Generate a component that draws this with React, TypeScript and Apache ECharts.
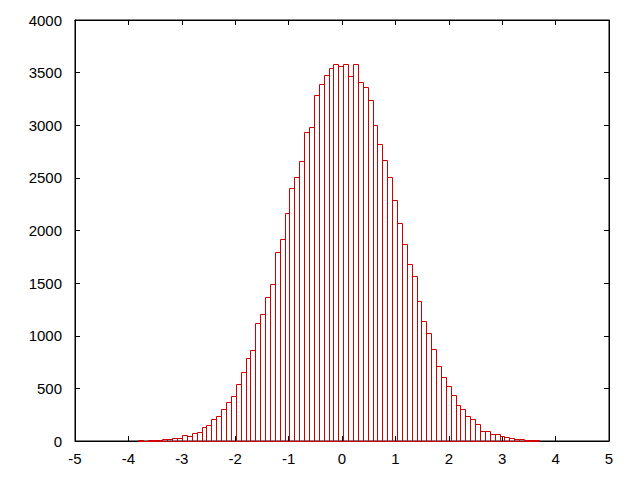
import React, { useEffect, useRef } from "react";
import * as echarts from "echarts";

// Histogram bin layout (value units on the x axis)
const binStart = -3.82;
const binWidth = 0.0915;

// Counts per bin (left to right)
const counts = [
  10, 0, 7, 8, 9, 19, 22, 29, 28, 60,
  50, 77, 87, 134, 153, 209, 237, 304, 369, 428,
  540, 656, 787, 868, 1125, 1210, 1369, 1492, 1797, 1922,
  2167, 2405, 2510, 2662, 2937, 2988, 3289, 3394, 3479, 3546,
  3584, 3567, 3584, 3472, 3584, 3413, 3365, 3243, 3006, 2823,
  2671, 2510, 2291, 2072, 1875, 1682, 1568, 1327, 1144, 1029,
  877, 716, 611, 526, 437, 339, 307, 234, 212, 165,
  95, 95, 70, 70, 44, 35, 29, 22, 19, 13,
  10, 10,
];

const xMin = -5;
const xMax = 5;
const xInterval = 1;
const yMin = 0;
const yMax = 4000;
const yInterval = 500;

const BAR_COLOR = "#d00000";
const FONT = "'Liberation Sans', Arial, sans-serif";

export default function App() {
  const ref = useRef<HTMLDivElement>(null);

  useEffect(() => {
    if (!ref.current) return;
    const chart = echarts.init(ref.current, null, { renderer: "svg" });

    const data = counts.map((c, i) => [
      binStart + i * binWidth,
      binStart + (i + 1) * binWidth,
      c,
    ]);

    const snap = (v: number) => Math.round(v) + 0.5;
    const plain = (v: number) => String(v);

    const labelStyle = {
      color: "#000",
      fontFamily: FONT,
      fontSize: 15,
      formatter: plain,
    };

    const axisCommon = {
      type: "value",
      axisLine: { show: true, onZero: false, lineStyle: { color: "#000", width: 1 } },
      axisTick: { show: true, inside: true, length: 5, lineStyle: { color: "#000" } },
      splitLine: { show: false },
    };

    chart.setOption({
      animation: false,
      backgroundColor: "#ffffff",
      grid: {
        left: 75,
        right: 31,
        top: 20,
        bottom: 39,
        show: true,
        borderColor: "#000",
        borderWidth: 1,
        backgroundColor: "transparent",
        containLabel: false,
      },
      xAxis: [
        {
          ...axisCommon,
          min: xMin,
          max: xMax,
          interval: xInterval,
          position: "bottom",
          axisLabel: { ...labelStyle, margin: 10 },
        },
        {
          ...axisCommon,
          min: xMin,
          max: xMax,
          interval: xInterval,
          position: "top",
          axisLabel: { show: false },
        },
      ],
      yAxis: [
        {
          ...axisCommon,
          min: yMin,
          max: yMax,
          interval: yInterval,
          position: "left",
          axisLabel: { ...labelStyle, margin: 13 },
        },
        {
          ...axisCommon,
          min: yMin,
          max: yMax,
          interval: yInterval,
          position: "right",
          axisLabel: { show: false },
        },
      ],
      series: [
        {
          type: "custom",
          xAxisIndex: 0,
          yAxisIndex: 0,
          data,
          encode: { x: [0, 1], y: 2 },
          renderItem: (params: any, api: any) => {
            const x0 = api.value(0);
            const x1 = api.value(1);
            const v = api.value(2);
            const pTop = api.coord([x0, v]);
            const pBot = api.coord([x1, 0]);
            const left = snap(pTop[0]);
            const right = snap(pBot[0]);
            const top = snap(pTop[1]);
            const bottom = snap(pBot[1]);
            return {
              type: "rect",
              shape: {
                x: left,
                y: top,
                width: right - left,
                height: bottom - top,
              },
              style: {
                fill: "none",
                stroke: BAR_COLOR,
                lineWidth: 1,
              },
            };
          },
          z: 1,
        },
      ],
    });

    return () => {
      chart.dispose();
    };
  }, []);

  return (
    <div
      ref={ref}
      style={{
        position: "absolute",
        left: 0,
        top: 0,
        width: 640,
        height: 480,
        background: "#fff",
      }}
    />
  );
}
